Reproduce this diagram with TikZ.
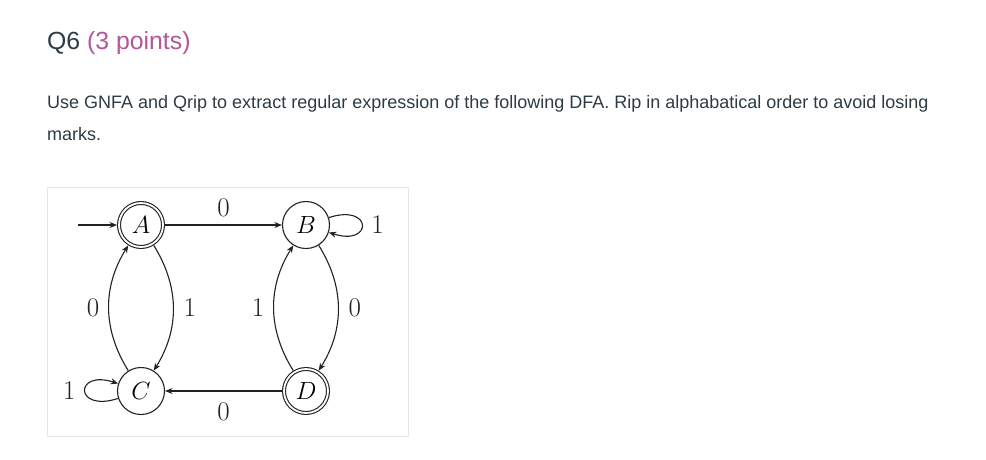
\documentclass[tikz,border=0pt]{standalone}
\usepackage{fontspec}
\newfontfamily\arial{Liberation Sans}
\usetikzlibrary{arrows.meta}
\definecolor{txt}{HTML}{2D3B45}
\definecolor{pts}{HTML}{B5559C}
\definecolor{boxc}{HTML}{E6E6E6}
\definecolor{ink}{HTML}{222222}
\begin{document}
\begin{tikzpicture}[x=1pt,y=1pt,
  st/.style={circle,draw=ink,line width=1.1pt,minimum size=47pt,inner sep=0pt,font=\fontsize{27}{27}\selectfont},
  acc/.style={st,double,double distance=1.8pt,minimum size=44pt,outer sep=2pt},
  lbl/.style={font=\fontsize{27}{27}\selectfont,inner sep=0pt,text=ink},
  tr/.style={draw=ink,line width=1.1pt,-{Stealth[length=7.5pt,width=6pt]}},
  txtnode/.style={anchor=base west,inner sep=0pt,text=txt}
]
\useasboundingbox (0,0) rectangle (986,-459);
\fill[white] (0,0) rectangle (986,-459);
\node[txtnode,font=\arial\fontsize{24.8}{28}\selectfont] (title) at (47,-49) {Q6 \textcolor{pts}{(3 points)}};
\node[txtnode,font=\arial\fontsize{18}{20}\selectfont] (l1) at (47,-108) {Use GNFA and Qrip to extract regular expression of the following DFA. Rip in alphabatical order to avoid losing};
\node[txtnode,font=\arial\fontsize{18}{20}\selectfont] (l2) at (47,-140) {marks.};
\draw[boxc,line width=1pt] (47,-187) rectangle (408,-436);

\node[acc] (A) at (141,-225) {$A$};
\node[st]  (B) at (306,-225) {$B$};
\node[st]  (C) at (141,-391) {$C$};
\node[acc] (D) at (306,-391) {$D$};
\coordinate (init) at (78,-225);

\draw[tr] (init) -- (A);
\draw[tr] (A) -- node[lbl,above=8pt] {0} (B);
\draw[tr] (D) -- node[lbl,below=11pt] {0} (C);
\draw[tr] (C) to[bend left=32] node[lbl,left=9pt] {0} (A);
\draw[tr] (A) to[bend left=32] node[lbl,right=10pt] {1} (C);
\draw[tr] (D) to[bend left=32] node[lbl,left=9pt] {1} (B);
\draw[tr] (B) to[bend left=32] node[lbl,right=10pt] {0} (D);
\draw[tr] (B) to[out=18,in=-18,looseness=8] node[lbl,right=9pt] {1} (B);
\draw[tr] (C) to[out=198,in=162,looseness=8] node[lbl,left=9pt] {1} (C);
\end{tikzpicture}
\end{document}
